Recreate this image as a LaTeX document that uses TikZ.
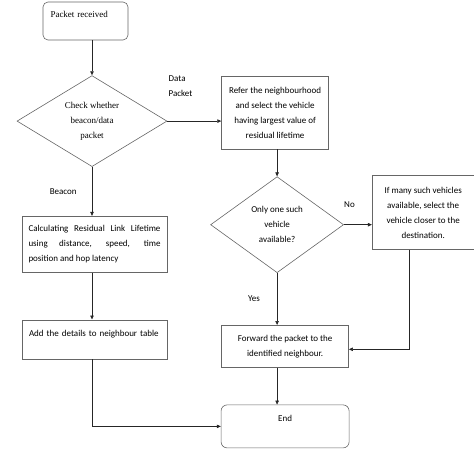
\documentclass[tikz,border=0pt]{standalone}
\usepackage{fontspec}
\setmainfont{Carlito}
\newfontfamily\timesfont{Liberation Serif}
\usetikzlibrary{arrows.meta, shapes.geometric, positioning}

\begin{document}
\begin{tikzpicture}[
				node distance=30pt and 30pt,
				every node/.style = {font=\fontsize{9}{15}\selectfont, text=black},
				box/.style = {draw=black!60, line width=0.6pt, align=center},
				decision/.style = {draw=black!60, line width=0.6pt, diamond, inner sep=0pt, align=center},
				line/.style = {-{Triangle[length=4pt,width=3.5pt]}, draw=black!85, line width=0.6pt},
				lbl/.style = {inner sep=1pt, align=left}
				]
				
				\useasboundingbox (0,0) rectangle (474pt,-449pt);
				
				\node[box, rounded corners=5pt, font=\timesfont\fontsize{9}{15}\selectfont, text width=70pt, align=left,
				      inner xsep=7.5pt, inner ysep=9pt, text height=7pt, text depth=13pt] (start) at (85.5pt,-21pt) {Packet received};
				\node[decision, font=\timesfont\fontsize{9}{15}\selectfont, aspect=1.65, minimum width=150pt, minimum height=91pt,
				      below=35pt of start, xshift=6.5pt] (check) {Check whether\\beacon/data\\packet};
				\node[box, text width=132pt, align=justify, inner xsep=6.5pt, minimum height=56pt,
				      below=49pt of check, xshift=2.5pt] (calc) {Calculating Residual Link Lifetime\linebreak using distance, speed, time\linebreak position and hop latency};
				\node[box, text width=131pt, align=left, inner xsep=7pt, inner ysep=10pt, text height=7pt, text depth=12pt,
				      below=47pt of calc] (add) {Add the details to neighbour table};
				\node[box, minimum width=107pt, minimum height=73pt,
				      right=54pt of check, yshift=8.5pt] (refer) {Refer the neighbourhood\\and select the vehicle\\having largest value of\\residual lifetime};
				\node[decision, aspect=1.385, minimum width=133pt, minimum height=96pt,
				      below=27pt of refer, xshift=2pt] (avail) {Only one such\\vehicle\\available?};
				\node[box, minimum width=102pt, minimum height=74pt,
				      right=28pt of avail, yshift=12pt] (many) {If many such vehicles\\available, select the\\vehicle closer to the\\destination.};
				\node[box, minimum width=127pt, minimum height=42pt,
				      below=52pt of avail, xshift=8pt] (fwd) {Forward the packet to the\\identified neighbour.};
				\node[box, rounded corners=6pt, minimum width=128pt, inner ysep=10pt, text height=7pt, text depth=16pt,
				      below=37pt of fwd] (end) {End};
				
				\draw[line] (start.south -| check.north) -- (check.north);
				\draw[line] (check.east) -- (check.east -| refer.west) node[lbl, pos=0, anchor=south west, yshift=23pt] {Data\\Packet};
				\draw[line] (check.south) -- (check.south |- calc.north) node[lbl, midway, left=14pt] {Beacon};
				\draw[line] (calc.south -| check.south) -- (add.north -| check.south);
				\draw[line] (add.south -| check.south) |- (end.west);
				\draw[line] (refer.south -| avail.north) -- (avail.north);
				\draw[line] (avail.east) -- (avail.east -| many.west) node[lbl, pos=0, anchor=south west, yshift=16pt, xshift=-1pt] {No};
				\draw[line] (avail.south) -- (avail.south |- fwd.north) node[lbl, midway, left=16pt] {Yes};
				\draw[line] ([xshift=-14pt]many.south) |- ([yshift=-3pt]fwd.east);
				\draw[line] (fwd.south -| avail.south) -- (end.north -| avail.south);
			\end{tikzpicture}
\end{document}
